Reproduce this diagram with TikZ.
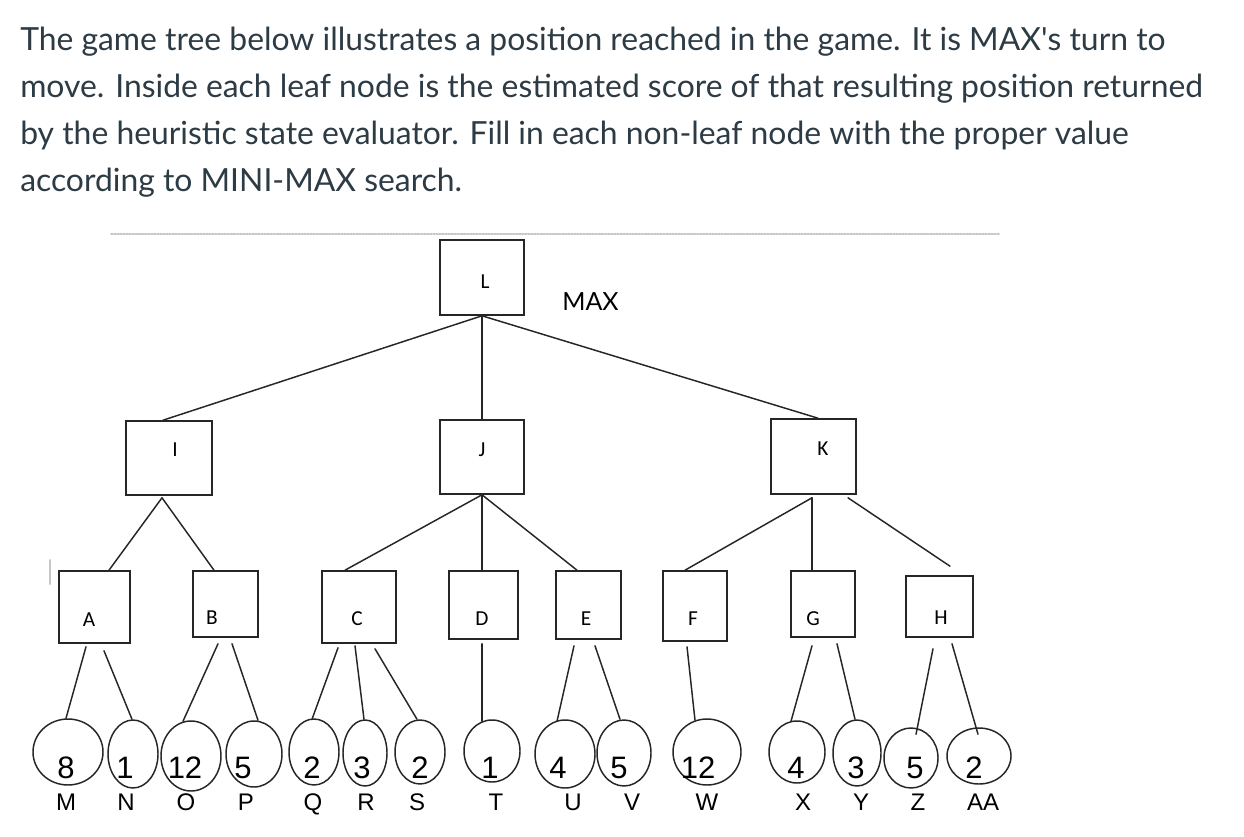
\documentclass[tikz,border=0pt]{standalone}
\usepackage{fontspec}
\setmainfont{Lato}
\newfontfamily\etichetta{Carlito}
\newfontfamily\cifre{Liberation Sans}
\usetikzlibrary{shapes.geometric,calc}

\definecolor{testo}{HTML}{2D3B45}
\definecolor{tratto}{HTML}{262626}

\tikzset{
    riga/.style={anchor=base west, inner sep=0pt, text=testo,
        font=\fontsize{23.9}{28}\selectfont},
    scatola/.style n args={2}{draw=tratto, line width=1.2pt, rectangle, inner sep=0pt,
        minimum width=#1*0.75pt, minimum height=#2*0.75pt},
    foglia/.style n args={2}{draw=tratto, line width=1.1pt, ellipse, inner sep=0pt,
        minimum width=#1*1.5pt, minimum height=#2*1.5pt},
    nome/.style={anchor=base, inner sep=0pt, font=\etichetta\fontsize{16}{16}\selectfont},
    valore/.style={anchor=base, inner sep=0pt, font=\cifre\fontsize{23.25}{24}\selectfont},
    lettera/.style={anchor=base, inner sep=0pt, font=\cifre\fontsize{18}{18}\selectfont},
    ramo/.style={draw=tratto, line width=1.1pt}
}

\begin{document}
\begin{tikzpicture}[x=0.75pt, y=-0.75pt, line cap=round, line join=miter]
    \useasboundingbox[fill=white] (0,0) rectangle (1244,837);

    % Testo della domanda
    \node[riga] (riga1) at (20,51) {The game tree below illustrates a position reached in the game. It is MAX\textquotesingle s turn to};
    \node[riga] (riga2) at (20,98) {move. Inside each leaf node is the estimated score of that resulting position returned};
    \node[riga] (riga3) at (20,145) {by the heuristic state evaluator. Fill in each non-leaf node with the proper value};
    \node[riga] (riga4) at (20,192) {according to MINI-MAX search.};

    % Residui della scansione
    \draw[gray!45, line width=1.3pt, densely dotted] (111,234) -- (1000,234);
    \draw[gray!45, line width=1.5pt] (50,560) -- (50,584);

    % Radice
    \node[scatola={84}{75}] (L) at (482,277.5) {};
    \node[nome] (L-t) at (485,289) {L};
    \node[anchor=base west, inner sep=0pt, font=\fontsize{18.75}{20}\selectfont] (max) at (562,311) {MAX};

    % Primo livello
    \node[scatola={86}{74}] (I) at (169,458) {};
    \node[scatola={84}{74}] (J) at (482,457) {};
    \node[scatola={85}{75}] (K) at (813.5,456.5) {};
    \node[nome] (I-t) at (175,456) {I};
    \node[nome] (J-t) at (482,456) {J};
    \node[nome] (K-t) at (823,455) {K};

    % Secondo livello
    \node[scatola={71}{72}] (A) at (94.5,607) {};
    \node[scatola={65}{66}] (B) at (225.5,604) {};
    \node[scatola={74}{72}] (C) at (359,607) {};
    \node[scatola={69}{68}] (D) at (483.5,605) {};
    \node[scatola={65}{68}] (E) at (588.5,605) {};
    \node[scatola={64}{70}] (F) at (695,606) {};
    \node[scatola={64}{66}] (G) at (823,604) {};
    \node[scatola={67}{61}] (H) at (939.5,606.5) {};
    \node[nome] (A-t) at (89,626) {A};
    \node[nome] (B-t) at (212,624) {B};
    \node[nome] (C-t) at (357,625) {C};
    \node[nome] (D-t) at (482,625) {D};
    \node[nome] (E-t) at (586,625) {E};
    \node[nome] (F-t) at (693,625) {F};
    \node[nome] (G-t) at (813,625) {G};
    \node[nome] (H-t) at (941,624) {H};

    % Foglie
    \node[foglia={35}{33}] (M) at (68,752) {};
    \node[foglia={25}{34}] (N) at (133,754) {};
    \node[foglia={30}{35}] (O) at (191,756) {};
    \node[foglia={28}{33}] (P) at (254,754) {};
    \node[foglia={25}{33}] (Q) at (314,752) {};
    \node[foglia={22}{33}] (R) at (365,753) {};
    \node[foglia={25}{32}] (S) at (420,752) {};
    \node[foglia={28}{31}] (T) at (492,751) {};
    \node[foglia={30}{34}] (U) at (565,754) {};
    \node[foglia={27}{33}] (V) at (624,753) {};
    \node[foglia={34}{33}] (W) at (707,752) {};
    \node[foglia={28}{31}] (X) at (797,752) {};
    \node[foglia={24}{33}] (Y) at (857,753) {};
    \node[foglia={27}{30}] (Z) at (911,758) {};
    \node[foglia={32}{28}] (AA) at (979,756) {};

    % Valori delle foglie
    \node[valore] (M-v) at (66,778) {8};
    \node[valore] (N-v) at (125,778) {1};
    \node[valore] (O-v) at (185,778) {12};
    \node[valore] (P-v) at (243,778) {5};
    \node[valore] (Q-v) at (312,778) {2};
    \node[valore] (R-v) at (362,778) {3};
    \node[valore] (S-v) at (420,778) {2};
    \node[valore] (T-v) at (490,778) {1};
    \node[valore] (U-v) at (558,778) {4};
    \node[valore] (V-v) at (619,778) {5};
    \node[valore] (W-v) at (698,778) {12};
    \node[valore] (X-v) at (796,778) {4};
    \node[valore] (Y-v) at (856,778) {3};
    \node[valore] (Z-v) at (915,778) {5};
    \node[valore] (AA-v) at (974,778) {2};

    % Nomi delle foglie
    \node[lettera] (M-t) at (66,810) {M};
    \node[lettera] (N-t) at (126,810) {N};
    \node[lettera] (O-t) at (186,810) {O};
    \node[lettera] (P-t) at (246,810) {P};
    \node[lettera] (Q-t) at (313,810) {Q};
    \node[lettera] (R-t) at (366,810) {R};
    \node[lettera] (S-t) at (417,810) {S};
    \node[lettera] (T-t) at (496,810) {T};
    \node[lettera] (U-t) at (573,810) {U};
    \node[lettera] (V-t) at (632,810) {V};
    \node[lettera] (W-t) at (707,810) {W};
    \node[lettera] (X-t) at (803,810) {X};
    \node[lettera] (Y-t) at (861,810) {Y};
    \node[lettera] (Z-t) at (918,810) {Z};
    \node[lettera] (AA-t) at (983,810) {AA};

    % Rami dalla radice
    \draw[ramo] (L.south) -- ($(I.north)+(-6,0)$);
    \draw[ramo] (L.south) -- (J.north);
    \draw[ramo] (L.south) -- ($(K.north)+(4.5,0)$);

    % Rami del primo livello
    \draw[ramo] ($(I.south)+(-7,2)$) -- ($(A.north)+(14.5,0)$);
    \draw[ramo] ($(I.south)+(-7,2)$) -- ($(B.north)+(-11.5,0)$);
    \draw[ramo] (J.south) -- ($(C.north)+(-14,0)$);
    \draw[ramo] (J.south) -- ($(D.north)+(-1.5,0)$);
    \draw[ramo] (J.south) -- ($(E.north)+(-11.5,0)$);
    \draw[ramo] ($(K.south)+(-1.5,3)$) -- ($(F.north)+(-10,0)$);
    \draw[ramo] ($(K.south)+(-1.5,3)$) -- ($(G.north)+(-11,0)$);
    \draw[ramo] ($(K.south)+(34.5,3)$) -- ($(H.north)+(10.5,-9)$);

    % Rami verso le foglie (staccati dai riquadri)
    \draw[ramo] ($(A.south)+(-8.5,3)$) -- ($(M.north)+(-2,0)$);
    \draw[ramo] ($(A.south)+(9.5,7)$) -- ($(N.north)+(-1,0)$);
    \draw[ramo] ($(B.south)+(-7.5,6)$) -- ($(O.north)+(-8,1)$);
    \draw[ramo] ($(B.south)+(6.5,6)$) -- ($(P.north)+(4,0)$);
    \draw[ramo] ($(C.south)+(-21,4)$) -- ($(Q.north)+(-2,1)$);
    \draw[ramo] ($(C.south)+(-4,2)$) -- ($(R.north)+(-1,0)$);
    \draw[ramo] ($(C.south)+(16,5)$) -- ($(S.north)+(-3,0)$);
    \draw[ramo] ($(D.south)+(-1.5,4)$) -- ($(T.north)+(-10,2)$);
    \draw[ramo] ($(E.south)+(-14.5,6)$) -- ($(U.north)+(-8,2)$);
    \draw[ramo] ($(E.south)+(6.5,6)$) -- ($(V.north)+(-4,0)$);
    \draw[ramo] ($(F.south)+(-8,5)$) -- ($(W.north)+(-12,2)$);
    \draw[ramo] ($(G.south)+(-11,8)$) -- ($(X.north)+(-6,1)$);
    \draw[ramo] ($(G.south)+(14,6)$) -- ($(Y.north)+(-2,0)$);
    \draw[ramo] ($(H.south)+(-6.5,11)$) -- ($(Z.north)+(5,7)$);
    \draw[ramo] ($(H.south)+(12.5,6)$) -- ($(AA.north)+(-1,7)$);
\end{tikzpicture}
\end{document}
